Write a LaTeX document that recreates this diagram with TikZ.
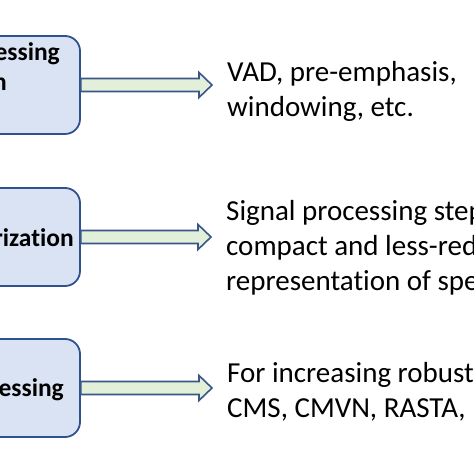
\documentclass[tikz,border=0pt]{standalone}
\usepackage{fontspec}
\setmainfont{Carlito}[Ligatures=NoCommon]
\usetikzlibrary{
  positioning,
  calc
}
\definecolor{boxfill}{HTML}{DAE3F3}
\definecolor{boxline}{HTML}{2F528F}
\definecolor{arrfill}{HTML}{E2F0D9}
\definecolor{arrline}{HTML}{3A5689}

% block arrow from a box to its description
\newcommand{\blockarrow}[2]{%
  \path (#2.west|-#1.east) coordinate (tip);
  \draw[blockarr] ($(#1.east)+(0,6.5)$) -- ($(tip)+(-28,6.5)$) -- ++(0,6)
    -- ($(tip)+(-15,0)$) -- ($(tip)+(-28,-12.5)$) -- ++(0,6)
    -- ($(#1.east)+(0,-6.5)$) -- cycle;}

\begin{document}
\begin{tikzpicture}[
  x=1pt, y=1pt,
  box/.style={draw=boxline, line width=1.8pt, fill=boxfill, rounded corners=15pt,
              minimum width=240pt, minimum height=98pt},
  boxtext/.style={anchor=east, inner sep=0pt, font=\bfseries\fontsize{25.5}{30}\selectfont},
  desc/.style={anchor=west, inner sep=0pt, align=left, font=\fontsize{29}{35}\selectfont},
  blockarr/.style={draw=arrline, line width=1.6pt, fill=arrfill, line join=miter}
]
  \path[use as bounding box, fill=white] (0,0) rectangle (474,474);

  % first stage
  \node[box] (prep) at (-40,389) {};
  \node[boxtext] (prepa) at (60,420) {essing};
  \node[boxtext] (prepb) at (7,390) {n};
  \node[desc] (prepdesc) at (227,383) {VAD, pre-emphasis,\\windowing, etc.};

  % second stage
  \node[box] (param) at (-40,237) {};
  \node[boxtext] (parama) at (74,236) {rization};
  \node[desc] (paramdesc) at (226,226) {Signal processing step\\compact and less-red\\representation of spe};

  % third stage
  \node[box] (post) at (-40,86) {};
  \node[boxtext] (posta) at (64,84) {essing};
  \node[desc] (postdesc) at (227,82) {For increasing robust\\CMS, CMVN, RASTA,};

  \blockarrow{prep}{prepdesc}
  \blockarrow{param}{paramdesc}
  \blockarrow{post}{postdesc}
\end{tikzpicture}
\end{document}
